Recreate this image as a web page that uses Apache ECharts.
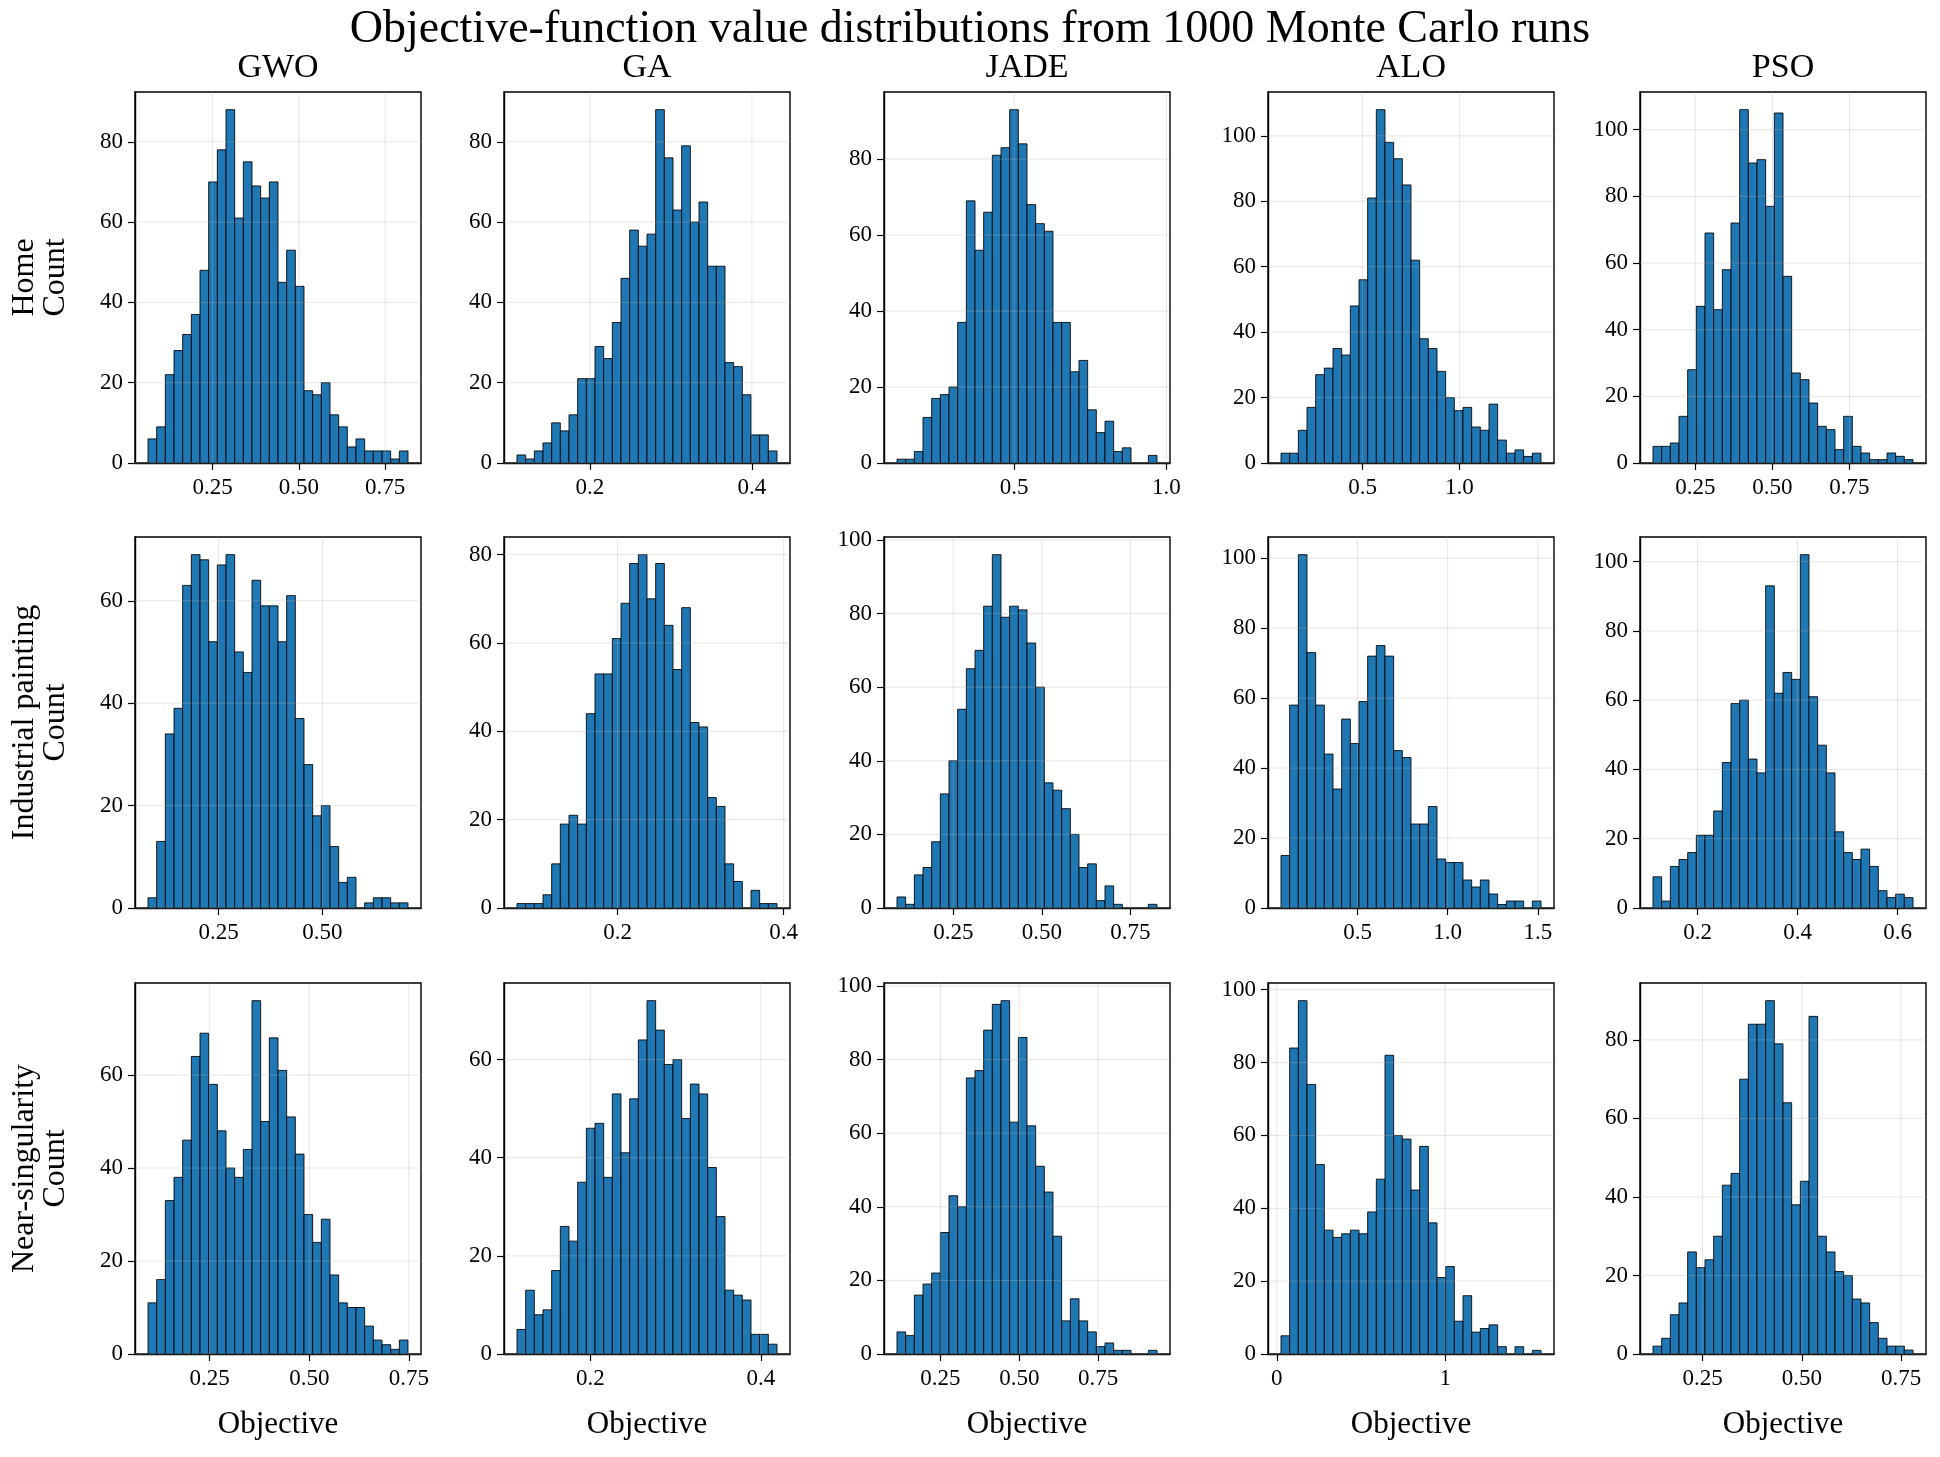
<!DOCTYPE html>
<html>
<head>
<meta charset="utf-8">
<title>Objective-function value distributions</title>
<script src="https://cdn.jsdelivr.net/npm/echarts@6.0.0/dist/echarts.min.js"></script>
<style>
  html, body { margin: 0; padding: 0; background: #fff; }
  #main { width: 1940px; height: 1457px; }
</style>
</head>
<body>
<div id="main"></div>
<script>
var algos = ['GWO', 'GA', 'JADE', 'ALO', 'PSO'];
var scenarios = ['Home', 'Industrial painting', 'Near-singularity'];

// counts of the 30 bins, one row per algorithm (GWO, GA, JADE, ALO, PSO)
var homeCounts = [
    [6, 9, 22, 28, 32, 37, 48, 70, 78, 88, 61, 75, 69, 66, 70, 45, 53, 44, 18, 17, 20, 12, 9, 4, 6, 3, 3, 3, 1, 3],
    [2, 1, 3, 5, 10, 8, 12, 21, 21, 29, 26, 35, 46, 58, 54, 57, 88, 76, 63, 79, 60, 65, 49, 49, 25, 24, 17, 7, 7, 3],
    [1, 1, 3, 12, 17, 18, 20, 37, 69, 56, 66, 81, 83, 93, 84, 68, 63, 61, 37, 37, 24, 27, 14, 8, 11, 3, 4, 0, 0, 2],
    [3, 3, 10, 17, 27, 29, 35, 33, 48, 56, 81, 108, 98, 93, 85, 62, 38, 35, 28, 20, 16, 17, 11, 10, 18, 7, 3, 4, 2, 3],
    [5, 5, 6, 14, 28, 47, 69, 46, 58, 72, 106, 90, 91, 77, 105, 56, 27, 25, 18, 11, 10, 4, 14, 5, 3, 1, 1, 3, 2, 1]
];
var paintCounts = [
    [2, 13, 34, 39, 63, 69, 68, 52, 67, 69, 50, 46, 64, 59, 59, 52, 61, 37, 28, 18, 20, 12, 5, 6, 0, 1, 2, 2, 1, 1],
    [1, 1, 1, 3, 10, 19, 21, 19, 44, 53, 53, 61, 69, 78, 80, 70, 78, 64, 54, 68, 42, 41, 25, 23, 10, 6, 0, 4, 1, 1],
    [3, 1, 9, 11, 18, 31, 40, 54, 65, 70, 82, 96, 79, 82, 81, 72, 60, 34, 32, 27, 20, 11, 12, 2, 6, 1, 0, 0, 0, 1],
    [15, 58, 101, 73, 58, 44, 34, 54, 47, 59, 72, 75, 72, 45, 43, 24, 24, 29, 14, 13, 13, 8, 6, 8, 4, 1, 2, 2, 0, 2],
    [9, 2, 12, 14, 16, 21, 21, 28, 42, 59, 60, 43, 39, 93, 62, 68, 66, 102, 61, 47, 39, 22, 16, 14, 17, 12, 5, 3, 4, 3]
];
var nearCounts = [
    [11, 16, 33, 38, 46, 64, 69, 58, 48, 40, 38, 44, 76, 50, 68, 61, 51, 43, 30, 24, 29, 17, 11, 10, 10, 6, 3, 2, 1, 3],
    [5, 13, 8, 9, 17, 26, 23, 35, 46, 47, 36, 53, 41, 52, 64, 72, 66, 59, 60, 48, 55, 53, 38, 28, 13, 12, 11, 4, 4, 2],
    [6, 5, 16, 19, 22, 33, 43, 40, 75, 77, 88, 95, 96, 63, 86, 62, 51, 44, 32, 9, 15, 9, 6, 2, 3, 1, 1, 0, 0, 1],
    [5, 84, 97, 74, 52, 34, 32, 33, 34, 33, 39, 48, 82, 60, 59, 45, 57, 36, 21, 24, 9, 16, 6, 7, 8, 2, 0, 2, 0, 1],
    [2, 4, 10, 13, 26, 22, 24, 30, 43, 46, 70, 84, 84, 90, 79, 64, 38, 44, 86, 30, 26, 21, 20, 14, 13, 8, 4, 2, 2, 1]
];

// lowest and highest bin edge of each histogram
var homeLo = [0.063, 0.110, 0.115, 0.079, 0.113];
var homeHi = [0.816, 0.431, 0.969, 1.421, 0.956];
var paintLo = [0.080, 0.079, 0.091, 0.076, 0.111];
var paintHi = [0.706, 0.392, 0.825, 1.517, 0.631];
var nearLo = [0.095, 0.114, 0.112, 0.025, 0.125];
var nearHi = [0.748, 0.419, 0.937, 1.569, 0.780];

// tick values and label decimals
var homeXTicks = [[0.25, 0.5, 0.75], [0.2, 0.4], [0.5, 1.0], [0.5, 1.0], [0.25, 0.5, 0.75]];
var paintXTicks = [[0.25, 0.5], [0.2, 0.4], [0.25, 0.5, 0.75], [0.5, 1.0, 1.5], [0.2, 0.4, 0.6]];
var nearXTicks = [[0.25, 0.5, 0.75], [0.2, 0.4], [0.25, 0.5, 0.75], [0, 1], [0.25, 0.5, 0.75]];
var homeXDigits = [2, 1, 1, 1, 2];
var paintXDigits = [2, 1, 2, 1, 1];
var nearXDigits = [2, 1, 2, 0, 2];
var homeYTicks = [[0, 20, 40, 60, 80], [0, 20, 40, 60, 80], [0, 20, 40, 60, 80], [0, 20, 40, 60, 80, 100], [0, 20, 40, 60, 80, 100]];
var paintYTicks = [[0, 20, 40, 60], [0, 20, 40, 60, 80], [0, 20, 40, 60, 80, 100], [0, 20, 40, 60, 80, 100], [0, 20, 40, 60, 80, 100]];
var nearYTicks = [[0, 20, 40, 60], [0, 20, 40, 60], [0, 20, 40, 60, 80, 100], [0, 20, 40, 60, 80, 100], [0, 20, 40, 60, 80]];

var countRows = [homeCounts, paintCounts, nearCounts];
var loRows = [homeLo, paintLo, nearLo];
var hiRows = [homeHi, paintHi, nearHi];
var xTickRows = [homeXTicks, paintXTicks, nearXTicks];
var xDigitRows = [homeXDigits, paintXDigits, nearXDigits];
var yTickRows = [homeYTicks, paintYTicks, nearYTicks];

var font = "'Liberation Serif', 'DejaVu Serif', serif";
var panelLeft = [135, 504, 884, 1268, 1640];
var panelTop = [92, 537, 983];
var panelW = 286, panelH = 371;

function renderBin(params, api) {
    if (api.value(2) <= 0) {
        return null;
    }
    var top = api.coord([api.value(0), api.value(2)]);
    var base = api.coord([api.value(1), 0]);
    return {
        type: 'rect',
        shape: {x: top[0], y: top[1], width: base[0] - top[0], height: base[1] - top[1]},
        style: {fill: '#1f77b4', stroke: 'rgba(0,0,0,0.85)', lineWidth: 1}
    };
}

function renderGridLine(params, api) {
    var a = api.coord([api.value(0), api.value(1)]);
    var b = api.coord([api.value(2), api.value(3)]);
    return {
        type: 'line',
        shape: {x1: a[0], y1: a[1], x2: b[0], y2: b[1]},
        style: {stroke: 'rgba(176,176,176,0.32)', lineWidth: 1}
    };
}

function fixedFormatter(d) {
    return function (v) { return v.toFixed(d); };
}

var grids = [], xAxes = [], yAxes = [], series = [];
var graphics = [{
    type: 'text', x: 970, y: 7,
    style: {text: 'Objective-function value distributions from 1000 Monte Carlo runs',
        fontFamily: font, fontSize: 46, fill: '#000', textAlign: 'center', textVerticalAlign: 'top'}
}];

for (var c = 0; c < 5; c++) {
    graphics.push({
        type: 'text', x: panelLeft[c] + panelW / 2, y: 51,
        style: {text: algos[c], fontFamily: font, fontSize: 34, fill: '#000', textAlign: 'center', textVerticalAlign: 'top'}
    });
}

for (var r = 0; r < 3; r++) {
    for (c = 0; c < 5; c++) {
        var k = r * 5 + c;
        var counts = countRows[r][c];
        var lo = loRows[r][c], hi = hiRows[r][c];
        var step = (hi - lo) / counts.length;
        var xMin = lo - 0.05 * (hi - lo), xMax = hi + 0.05 * (hi - lo);
        var yMax = Math.max.apply(null, counts) * 1.05;
        var xt = xTickRows[r][c], yt = yTickRows[r][c];

        var bins = counts.map(function (n, i) {
            return [lo + i * step, lo + (i + 1) * step, n];
        });
        var lines = [];
        xt.forEach(function (v) { lines.push([v, 0, v, yMax]); });
        yt.forEach(function (v) { lines.push([xMin, v, xMax, v]); });

        grids.push({
            left: panelLeft[c], top: panelTop[r], width: panelW, height: panelH,
            show: true, borderColor: '#000', borderWidth: 1.4, backgroundColor: 'transparent',
            containLabel: false, outerBoundsMode: 'none'
        });
        xAxes.push({
            type: 'value', gridIndex: k, min: xMin, max: xMax,
            splitLine: {show: false},
            axisLine: {show: true, onZero: false, lineStyle: {color: '#000', width: 1.4}},
            axisTick: {show: true, customValues: xt, length: 7, lineStyle: {color: '#000', width: 1.2}},
            axisLabel: {customValues: xt, formatter: fixedFormatter(xDigitRows[r][c]),
                fontFamily: font, fontSize: 23, color: '#000', margin: 13},
            name: r === 2 ? 'Objective' : '',
            nameLocation: 'middle', nameGap: 55,
            nameTextStyle: {fontFamily: font, fontSize: 31, color: '#000'}
        });
        yAxes.push({
            type: 'value', gridIndex: k, min: 0, max: yMax,
            splitLine: {show: false},
            axisLine: {show: true, onZero: false, lineStyle: {color: '#000', width: 1.4}},
            axisTick: {show: true, customValues: yt, length: 7, lineStyle: {color: '#000', width: 1.2}},
            axisLabel: {customValues: yt, fontFamily: font, fontSize: 23, color: '#000', margin: 12},
            name: c === 0 ? scenarios[r] + '\nCount' : '',
            nameLocation: 'middle', nameRotate: 90, nameGap: 64,
            nameTextStyle: {fontFamily: font, fontSize: 32, lineHeight: 31, color: '#000'}
        });
        series.push({
            type: 'custom', xAxisIndex: k, yAxisIndex: k,
            renderItem: renderBin, encode: {x: [0, 1], y: 2},
            data: bins, silent: true, animation: false
        });
        series.push({
            type: 'custom', xAxisIndex: k, yAxisIndex: k, z: 3,
            renderItem: renderGridLine, encode: {x: [0, 2], y: [1, 3]},
            data: lines, silent: true, animation: false
        });
    }
}

var chart = echarts.init(document.getElementById('main'));
chart.setOption({
    backgroundColor: '#fff',
    animation: false,
    graphic: graphics,
    grid: grids,
    xAxis: xAxes,
    yAxis: yAxes,
    series: series
});
</script>
</body>
</html>
